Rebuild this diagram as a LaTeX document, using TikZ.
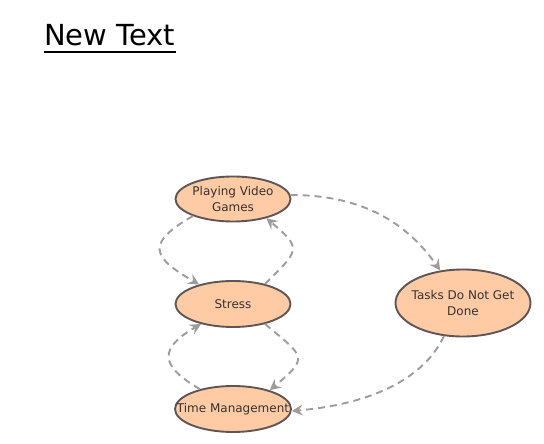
\documentclass[tikz,border=0pt]{standalone}
\usepackage{fontspec}
\setmainfont{DejaVu Sans}
\usetikzlibrary{shapes.geometric,arrows.meta}
\definecolor{nodefill}{HTML}{FFCBA5}
\definecolor{nodeline}{HTML}{5E5654}
\definecolor{edgegray}{HTML}{9C9C9C}
\definecolor{txt}{HTML}{333333}
\tikzset{
  state/.style={ellipse, draw=nodeline, line width=1.9pt, fill=nodefill, inner sep=0pt,
    text=txt, align=center, font=\fontsize{12}{16}\selectfont},
  link/.style={draw=edgegray, line width=1.9pt, dash pattern=on 7pt off 5pt,
    -{Stealth[length=11pt,width=11pt,inset=4pt]}},
}
\begin{document}
\begin{tikzpicture}[x=1pt,y=1pt]
\useasboundingbox (0,0) rectangle (544,444);
\node[anchor=base west, inner sep=0pt, font=\fontsize{29}{34}\selectfont] (title) at (44,398) {New Text};
\draw[line width=2.4pt] (title.base west) ++(0,-6) -- ([yshift=-6pt]title.base east);
\node[state, minimum width=115pt, minimum height=45pt] (pvg) at (233,245) {Playing Video\\Games};
\node[state, minimum width=115pt, minimum height=46pt] (stress) at (233,140) {Stress};
\node[state, minimum width=116pt, minimum height=46pt, inner xsep=-30pt] (tm) at (233,35) {Time Management};
\node[state, minimum width=135pt, minimum height=67pt, inner xsep=-8pt] (tasks) at (463,141) {Tasks Do Not Get\\Done};
\draw[link] (pvg.4) .. controls +(0:75) and +(125:55) .. (tasks.125);
\draw[link] (pvg.203) .. controls +(210:55) and +(150:55) .. (stress.150);
\draw[link] (stress.32) .. controls +(45:48) and +(-40:48) .. (pvg.-30);
\draw[link] (tm.149) .. controls +(150:48) and +(210:48) .. (stress.212);
\draw[link] (stress.-32) .. controls +(-40:52) and +(40:52) .. (tm.27);
\draw[link] (tasks.240) .. controls +(-115:50) and +(5:75) .. (tm.-2);
\end{tikzpicture}
\end{document}
